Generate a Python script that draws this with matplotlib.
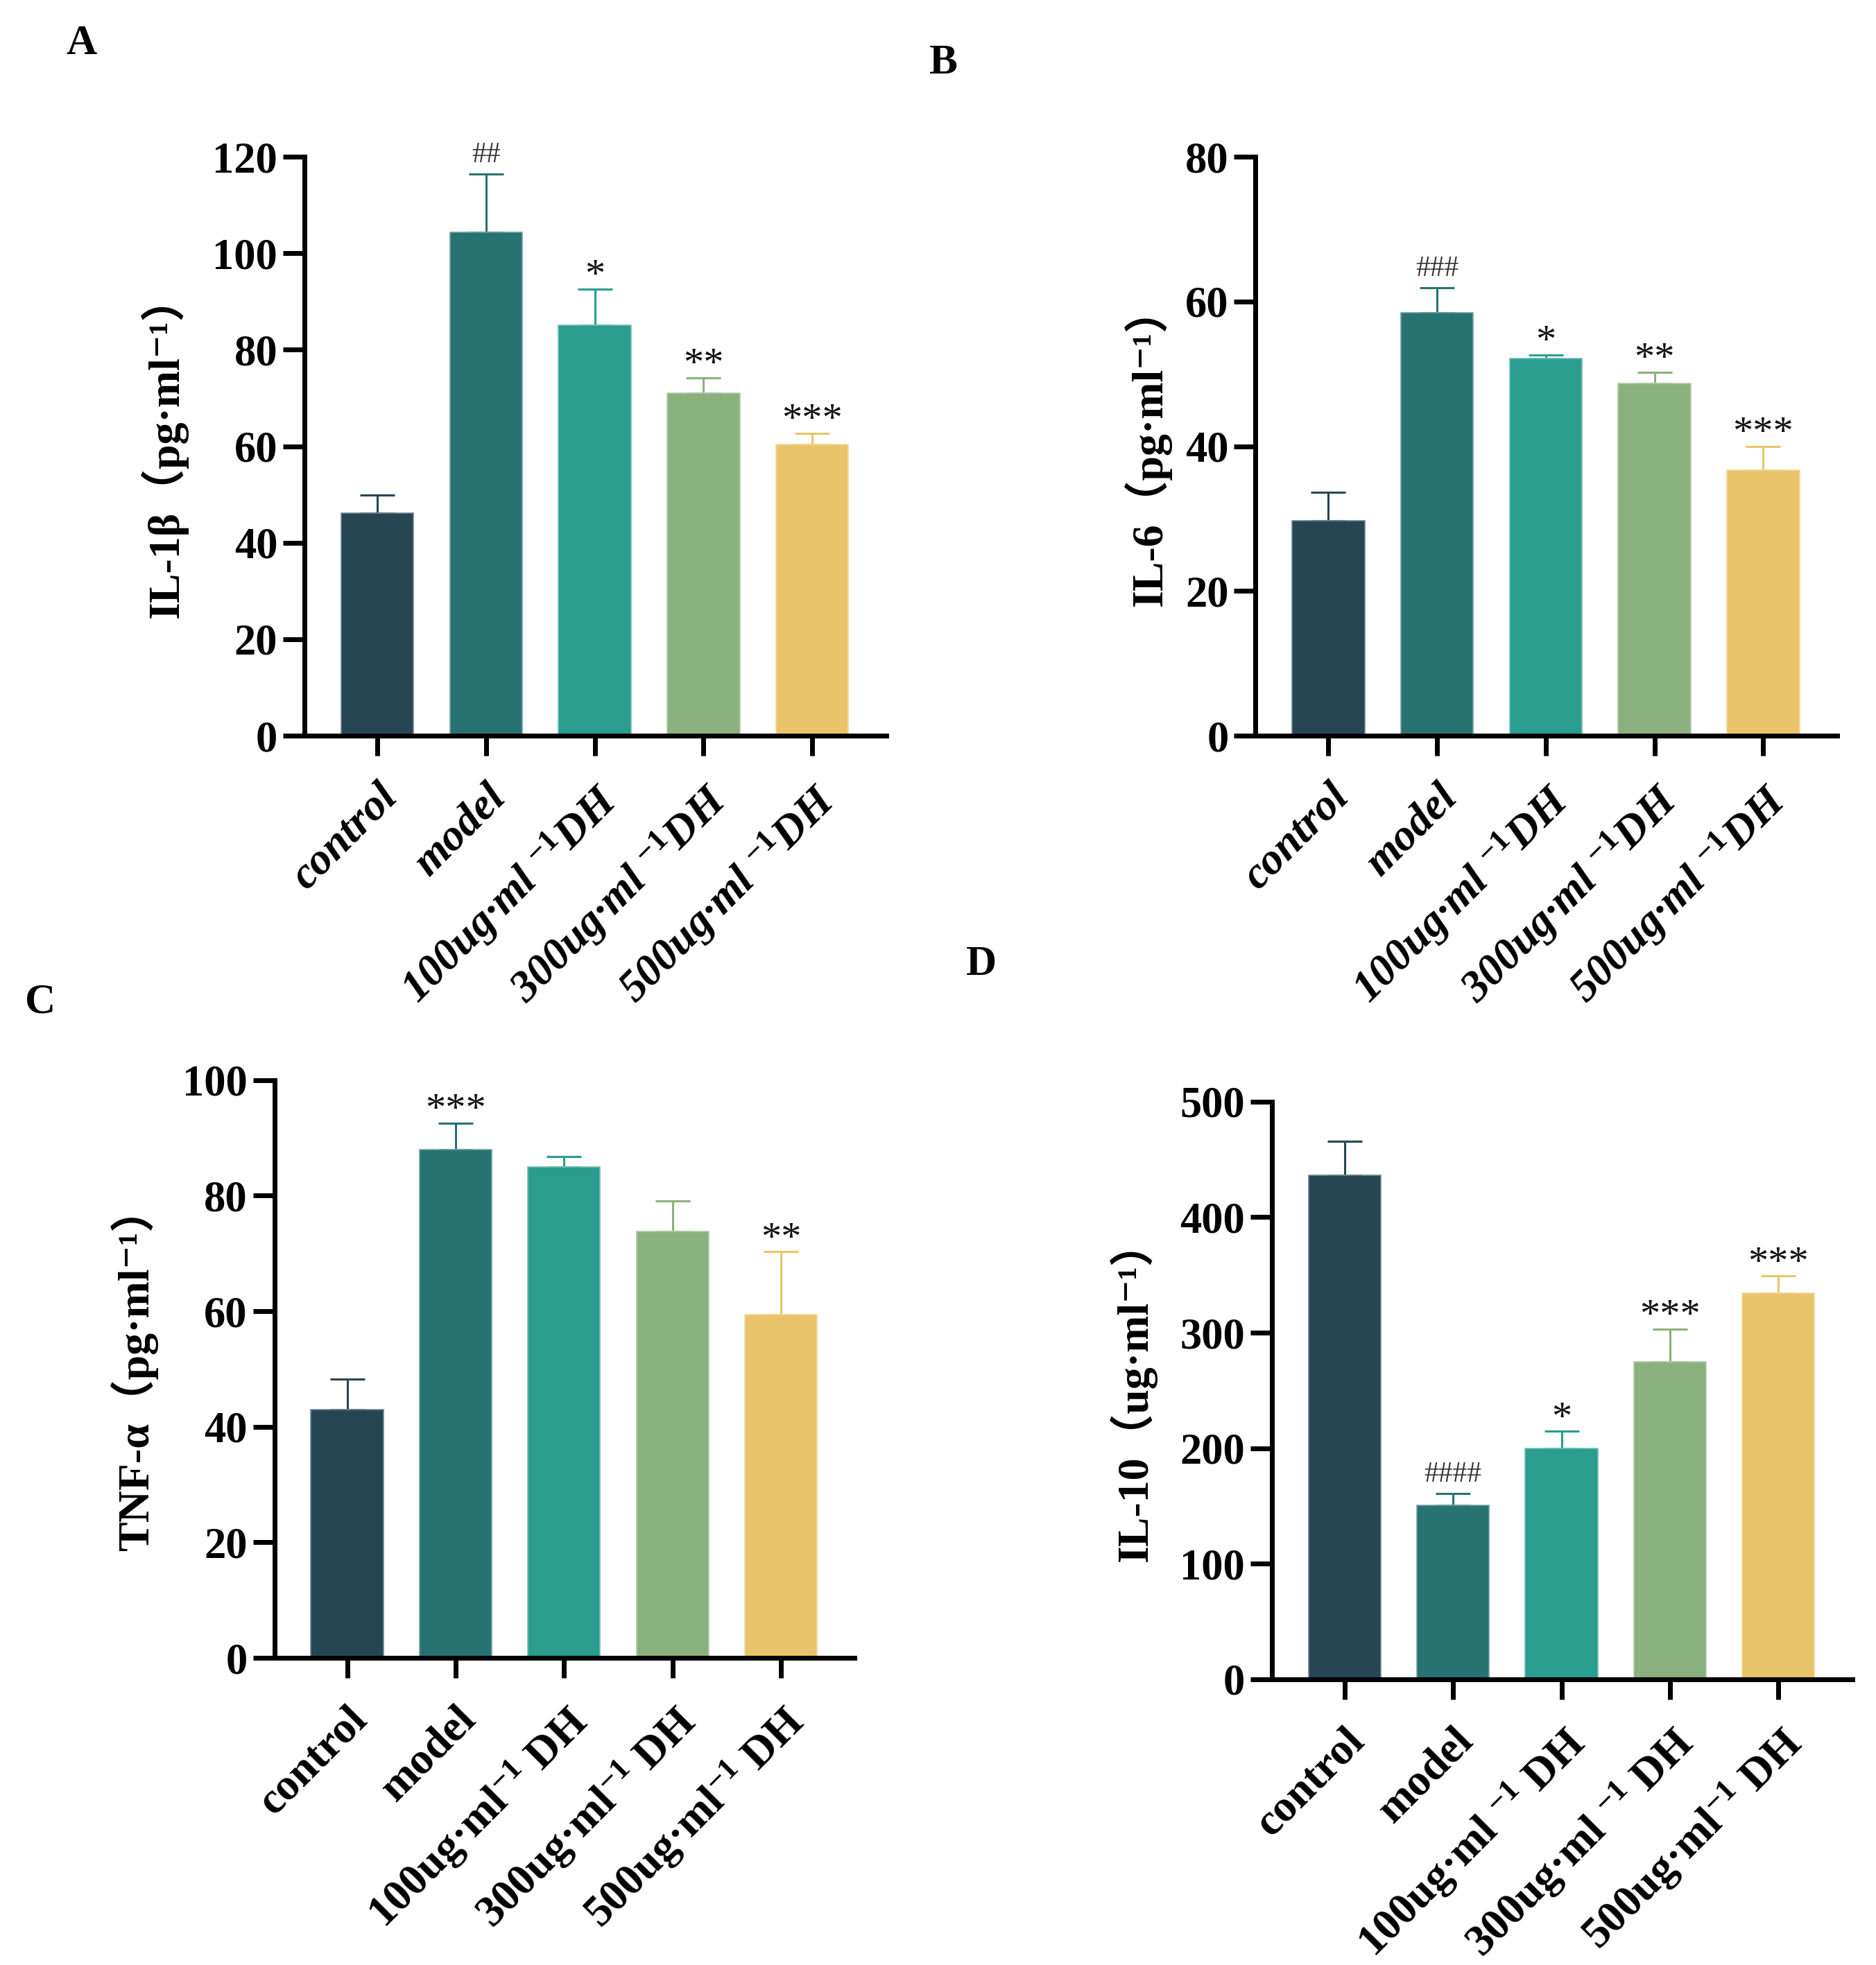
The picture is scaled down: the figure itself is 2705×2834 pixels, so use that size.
import matplotlib
matplotlib.use("Agg")
import matplotlib.pyplot as plt
import matplotlib.colors as mcolors
import numpy as np

plt.rcParams['font.family'] = ['Liberation Serif', 'DejaVu Serif', 'Noto Sans CJK SC']
plt.rcParams['font.weight'] = 'bold'
plt.rcParams['mathtext.fontset'] = 'custom'
plt.rcParams['mathtext.rm'] = 'Liberation Serif:bold'
plt.rcParams['mathtext.it'] = 'Liberation Serif:bold:italic'
plt.rcParams['mathtext.bf'] = 'Liberation Serif:bold'

categories = ["control", "model", "100ug·ml", "300ug·ml", "500ug·ml"]
colors = ["#264653", "#287271", "#2A9D8F", "#8AB17D", "#E9C46A"]

labels_AB = ["control", "model", "100ug·ml $^{-1}$DH", "300ug·ml $^{-1}$DH", "500ug·ml $^{-1}$DH"]
labels_C = ["control", "model", "100ug·ml$^{-1}$ DH", "300ug·ml$^{-1}$ DH", "500ug·ml$^{-1}$ DH"]
labels_D = ["control", "model", "100ug·ml $^{-1}$ DH", "300ug·ml $^{-1}$ DH", "500ug·ml$^{-1}$ DH"]

A_mean = [46.1, 104.3, 85.1, 71.0, 60.4]
A_err = [3.8, 12.1, 7.5, 3.2, 2.3]
A_marks = ["", "##", "*", "**", "***"]

B_mean = [29.7, 58.5, 52.1, 48.7, 36.7]
B_err = [3.9, 3.4, 0.55, 1.5, 3.3]
B_marks = ["", "###", "*", "**", "***"]

C_mean = [43.0, 88.0, 85.0, 73.8, 59.4]
C_err = [5.2, 4.6, 1.8, 5.3, 10.9]
C_marks = ["", "***", "", "", "**"]

D_mean = [436, 150.5, 200, 275, 334]
D_err = [29.5, 10, 14.5, 28, 15]
D_marks = ["", "####", "*", "***", "***"]

fig = plt.figure(figsize=(27.05, 28.34), dpi=100)

panels = [
    dict(rect=[0.1623, 0.6256, 0.310, 0.2946], mean=A_mean, err=A_err, marks=A_marks,
         yticks=[0, 20, 40, 60, 80, 100, 120], ylabel="IL-1β（pg·ml⁻¹）", labels=labels_AB,
         italic=True, letter="A", lpos=(0.0434, 0.9777), ylab_x=-0.200),
    dict(rect=[0.6693, 0.6256, 0.310, 0.2946], mean=B_mean, err=B_err, marks=B_marks,
         yticks=[0, 20, 40, 60, 80], ylabel="IL-6（pg·ml⁻¹）", labels=labels_AB,
         italic=True, letter="B", lpos=(0.503, 0.968), ylab_x=-0.145),
    dict(rect=[0.1463, 0.1563, 0.3093, 0.294], mean=C_mean, err=C_err, marks=C_marks,
         yticks=[0, 20, 40, 60, 80, 100], ylabel="TNF-α（pg·ml⁻¹）", labels=labels_C,
         italic=False, letter="C", lpos=(0.0214, 0.4898), ylab_x=-0.200),
    dict(rect=[0.678, 0.1454, 0.3093, 0.294], mean=D_mean, err=D_err, marks=D_marks,
         yticks=[0, 100, 200, 300, 400, 500], ylabel="IL-10（ug·ml⁻¹）", labels=labels_D,
         italic=False, letter="D", lpos=(0.523, 0.509), ylab_x=-0.198),
]


def lighten(c, f=0.35):
    r = np.array(mcolors.to_rgb(c))
    return tuple(r + (1 - r) * f)


x = np.arange(len(categories))
for p in panels:
    ax = fig.add_axes(p["rect"])
    ax.bar(x, p["mean"], width=0.667, color=colors,
           edgecolor=[lighten(c) for c in colors], linewidth=1.2, zorder=2)
    for i in range(len(x)):
        ax.errorbar(x[i], p["mean"][i], yerr=[[0], [p["err"][i]]], fmt="none",
                    ecolor=colors[i], elinewidth=2.2, capsize=18, capthick=2.2, zorder=1)
    top = p["yticks"][-1]
    ax.set_xlim(-0.67, 4.68)
    ax.set_ylim(0, top)
    ax.set_yticks(p["yticks"])
    ax.set_yticklabels([str(t) for t in p["yticks"]], fontsize=45, fontweight="bold")
    ax.set_xticks(x)
    ax.set_xticklabels(p["labels"], fontsize=46, fontweight="bold",
                       fontstyle="italic" if p["italic"] else "normal",
                       rotation=45, ha="right", va="top", rotation_mode="anchor")
    ax.spines["top"].set_visible(False)
    ax.spines["right"].set_visible(False)
    for s in ["left", "bottom"]:
        ax.spines[s].set_linewidth(5)
    ax.tick_params(axis="y", length=22, width=5, pad=6)
    ax.tick_params(axis="x", length=21, width=5, pad=22)
    ax.set_ylabel(p["ylabel"], fontsize=46, fontweight="bold")
    ax.yaxis.set_label_coords(p["ylab_x"], 0.5)
    for i, m in enumerate(p["marks"]):
        if not m:
            continue
        ytop = p["mean"][i] + p["err"][i]
        if m.startswith("#"):
            ax.annotate(m, (x[i], ytop), xytext=(0, 6), textcoords="offset points",
                        ha="center", va="bottom", fontsize=30, fontweight="normal",
                        color="#333333")
        else:
            ax.annotate(m, (x[i], ytop), xytext=(0, -6), textcoords="offset points",
                        ha="center", va="bottom", fontsize=42, fontweight="normal",
                        color="#111111")
    fig.text(p["lpos"][0], p["lpos"][1], p["letter"], fontsize=44, fontweight="bold",
             ha="center", va="center")

fig.savefig("out.png", dpi=100)
